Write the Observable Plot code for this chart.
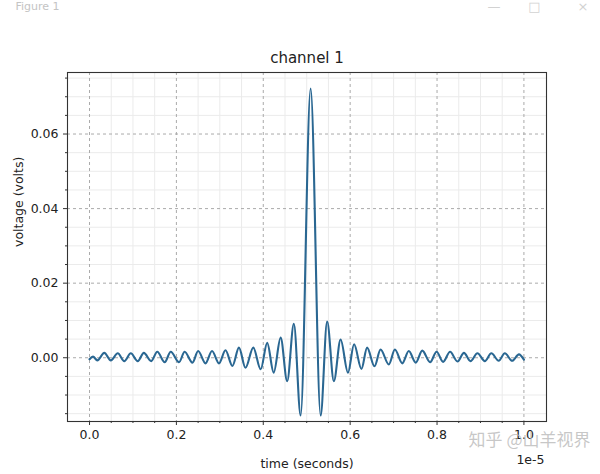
<!DOCTYPE html>
<html>
<head>
<meta charset="utf-8">
<script src="https://cdn.jsdelivr.net/npm/d3@7"></script>
<script src="https://cdn.jsdelivr.net/npm/@observablehq/plot@0.6"></script>
<style>
  html, body { margin: 0; padding: 0; background: #fff; }
  #chart { width: 600px; height: 474px; overflow: hidden; }
</style>
</head>
<body>
<div id="chart"></div>
<script>
// time in units of 1e-5 seconds (offset text "1e-5") at each extremum
const timeScaled = [
  0.000, 0.008, 0.018, 0.034, 0.049, 0.065, 0.080, 0.095, 0.111, 0.125,
  0.142, 0.156, 0.173, 0.187, 0.206, 0.219, 0.237, 0.250, 0.267, 0.282,
  0.298, 0.313, 0.329, 0.344, 0.359, 0.377, 0.394, 0.409, 0.424, 0.440,
  0.455, 0.4704, 0.486, 0.509, 0.532, 0.547, 0.5625, 0.578, 0.595, 0.609,
  0.626, 0.639, 0.656, 0.670, 0.689, 0.703, 0.720, 0.735, 0.751, 0.766,
  0.784, 0.799, 0.814, 0.830, 0.847, 0.862, 0.877, 0.893, 0.910, 0.925,
  0.942, 0.956, 0.973, 0.9885, 1.000
];
// voltage (volts)
const voltage = [
  -0.0004, 0.0003, -0.0007, 0.0013, -0.0007, 0.0012, -0.0009, 0.0012, -0.0009, 0.0013,
  -0.0009, 0.0016, -0.0012, 0.0016, -0.0012, 0.0016, -0.0013, 0.0018, -0.0015, 0.0018,
  -0.0015, 0.0020, -0.0022, 0.0027, -0.0027, 0.0027, -0.0031, 0.0040, -0.0040, 0.0054,
  -0.0063, 0.0091, -0.0155, 0.0722, -0.0155, 0.0097, -0.0063, 0.0049, -0.0040, 0.0036,
  -0.0030, 0.0027, -0.0023, 0.0022, -0.0018, 0.0022, -0.0015, 0.0018, -0.0013, 0.0019,
  -0.0012, 0.0016, -0.0011, 0.0016, -0.0010, 0.0013, -0.0009, 0.0012, -0.0009, 0.0012,
  -0.0008, 0.0012, -0.0008, 0.0009, -0.0005
];

const xMajorTicks = [0.0, 0.2, 0.4, 0.6, 0.8, 1.0];
const xMinorTicks = [0.05, 0.1, 0.15, 0.25, 0.3, 0.35, 0.45, 0.5, 0.55, 0.65, 0.7, 0.75, 0.85, 0.9, 0.95];
const yMajorTicks = [0.00, 0.02, 0.04, 0.06];
const yMinorTicks = [-0.015, -0.01, -0.005, 0.005, 0.01, 0.015, 0.025, 0.03, 0.035, 0.045, 0.05, 0.055, 0.065, 0.07, 0.075];

const titleText = ["channel 1"];
const xLabelText = ["time (seconds)"];
const yLabelText = ["voltage (volts)"];
const offsetText = ["1e-5"];
const windowTitle = ["Figure 1"];
const windowMinimize = ["—"];
const windowMaximize = ["□"];
const windowClose = ["×"];
const watermark = ["知乎 @山羊视界"];

const data = timeScaled.map((t, i) => ({t, v: voltage[i]}));

const font = "'DejaVu Sans', sans-serif";
const chromeStyle = {frameAnchor: "top-right", dy: -66, lineAnchor: "middle", fontSize: 13, fill: "#d2d2d2"};

const chart = Plot.plot({
  width: 600,
  height: 474,
  marginLeft: 67,
  marginRight: 54,
  marginTop: 72,
  marginBottom: 53,
  style: {fontFamily: font, fontSize: "12.5px", color: "#222", background: "#fff", overflow: "visible"},
  x: {domain: [-0.0507, 1.052]},
  y: {domain: [-0.0171, 0.0765]},
  marks: [
    Plot.gridX(xMinorTicks, {stroke: "#ebebeb", strokeOpacity: 1, strokeWidth: 1}),
    Plot.gridY(yMinorTicks, {stroke: "#ebebeb", strokeOpacity: 1, strokeWidth: 1}),
    Plot.gridX(xMajorTicks, {stroke: "#aaaaaa", strokeOpacity: 1, strokeDasharray: "3,3"}),
    Plot.gridY(yMajorTicks, {stroke: "#aaaaaa", strokeOpacity: 1, strokeDasharray: "3,3"}),
    Plot.line(data, {x: "t", y: "v", curve: "monotone-x", stroke: "#2a6792", strokeWidth: 2.1}),
    Plot.frame({stroke: "#333", strokeWidth: 1.1}),
    Plot.axisX(xMajorTicks, {tickSize: 4, tickPadding: 5, tickFormat: d3.format(".1f"), label: null, stroke: "#333"}),
    Plot.axisX(xMinorTicks, {tickSize: 2, tickFormat: () => "", label: null, stroke: "#333"}),
    Plot.axisY(yMajorTicks, {tickSize: 4, tickPadding: 5, tickFormat: d3.format(".2f"), label: null, stroke: "#333"}),
    Plot.axisY(yMinorTicks, {tickSize: 2, tickFormat: () => "", label: null, stroke: "#333"}),
    Plot.text(titleText, {frameAnchor: "top", dy: -14, lineAnchor: "middle", fontSize: 15, fill: "#222"}),
    Plot.text(xLabelText, {frameAnchor: "bottom", dy: 42, lineAnchor: "middle", fontSize: 12.5, fill: "#222"}),
    Plot.text(yLabelText, {frameAnchor: "left", dx: -49, rotate: -90, lineAnchor: "middle", fontSize: 12.5, fill: "#222"}),
    Plot.text(offsetText, {frameAnchor: "bottom-right", dy: 38, dx: -2, lineAnchor: "middle", textAnchor: "end", fontSize: 12.5, fill: "#222"}),
    Plot.text(windowTitle, {frameAnchor: "top-left", dx: -52, dy: -66, lineAnchor: "middle", textAnchor: "start", fontSize: 11, fill: "#c4c4c4"}),
    Plot.text(windowMinimize, {...chromeStyle, dx: -46}),
    Plot.text(windowMaximize, {...chromeStyle, dx: -6}),
    Plot.text(windowClose, {...chromeStyle, dx: 42}),
    Plot.text(watermark, {frameAnchor: "bottom-right", dx: 44, dy: 19, lineAnchor: "middle", textAnchor: "end", fontSize: 17, fill: "#bdbdbd", fillOpacity: 0.85, fontFamily: "'Noto Sans CJK SC', sans-serif"})
  ]
});

document.getElementById("chart").appendChild(chart);
</script>
</body>
</html>
